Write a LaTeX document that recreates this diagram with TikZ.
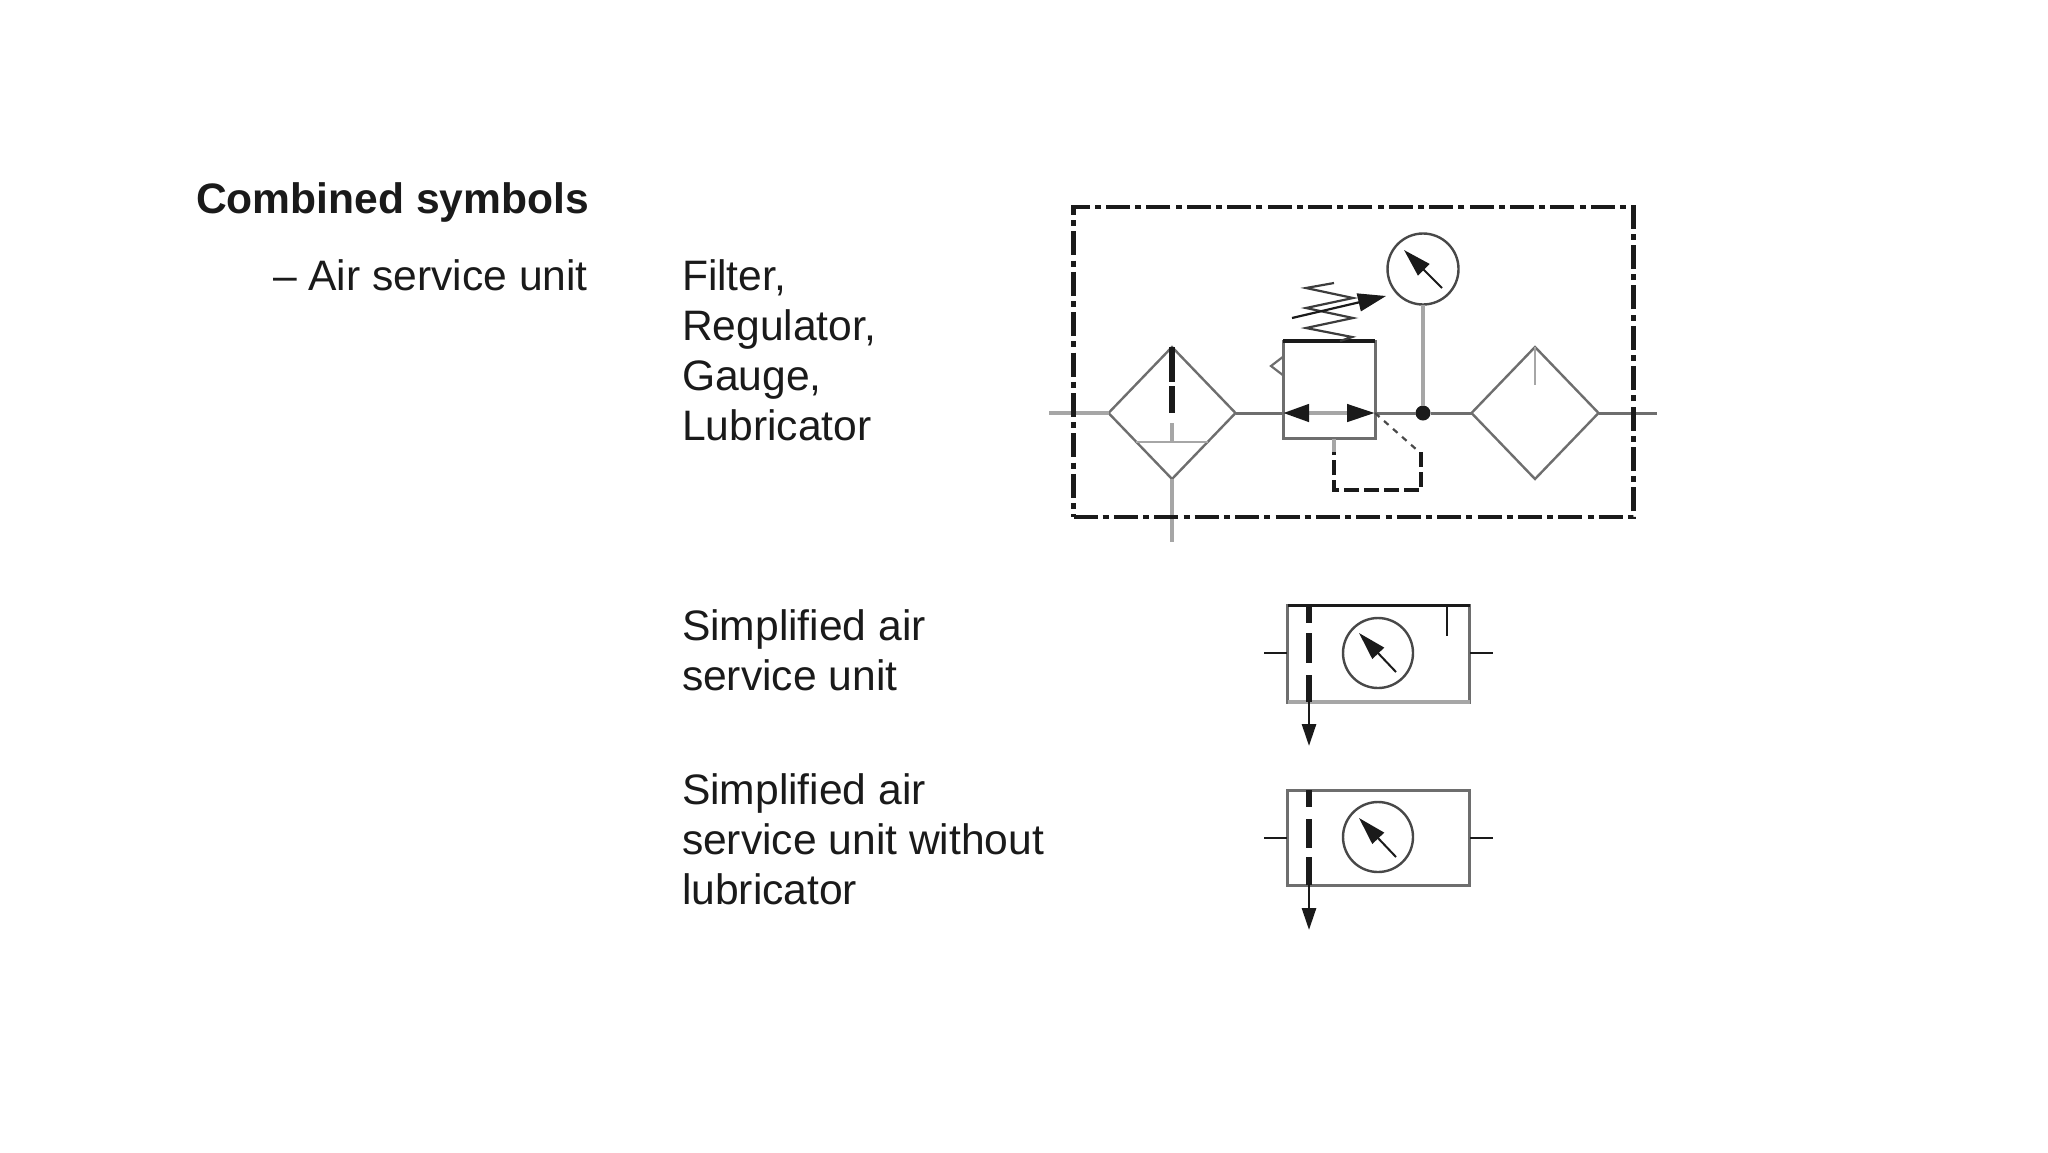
\documentclass[tikz,border=0pt]{standalone}
\usepackage{fontspec}
\setmainfont{Liberation Sans}
\usetikzlibrary{arrows.meta,shapes.geometric}
\definecolor{ink}{HTML}{1A1A1A}
\definecolor{midg}{HTML}{6E6E6E}
\definecolor{lightg}{HTML}{A6A6A6}
\tikzset{
  label text/.style={inner sep=0pt,outer sep=0pt,anchor=base west,align=left,text=ink,font=\fontsize{21.3}{25}\selectfont},
  heading text/.style={label text,font=\fontsize{21.3}{25}\selectfont\bfseries},
  filterbox/.style={shape=diamond,draw=midg,line width=1.2pt,inner sep=0pt,outer sep=0pt,minimum width=63.5pt,minimum height=66pt},
  unitbox/.style={shape=rectangle,draw=midg,line width=1.5pt,inner sep=0pt,outer sep=0pt},
  gaugebox/.style={shape=circle,draw=ink!80!white,line width=1.2pt,inner sep=0pt,outer sep=0pt,minimum size=35.5pt},
  thick grey/.style={draw=lightg,line width=2.2pt},
  thin grey/.style={draw=midg,line width=1.5pt},
  needle/.style={draw=ink,line width=1pt,-{Triangle[length=14pt,width=8pt,ink]}},
  drain/.style={draw=ink,line width=1.4pt,-{Triangle[length=11pt,width=7pt,ink]}},
  filterdash/.style={draw=ink,line width=2.6pt},
  stub/.style={draw=ink,line width=1.2pt},
  pilot/.style={draw=ink,line width=2.3pt,dash pattern=on 7.5pt off 2.5pt},
  pilot thin/.style={draw=ink!80!white,line width=1.1pt,dash pattern=on 3pt off 3pt},
  framebox/.style={shape=rectangle,draw=ink,line width=2.3pt,inner sep=0pt,outer sep=0pt,dash pattern=on 12pt off 2.6pt on 3pt off 2.6pt},
  spring/.style={draw=ink!85!white,line width=1.1pt,line join=miter},
  junction/.style={shape=circle,fill=ink,inner sep=0pt,outer sep=0pt,minimum size=7.5pt},
}
\begin{document}
\begin{tikzpicture}[x=0.5pt,y=-0.5pt]
\useasboundingbox (0,0) rectangle (2048,1152);
% texts (base anchor of a multi-line node is its last line)
\node[heading text] (title) at (196,213) {Combined symbols};
\node[label text] (sub) at (273,290) {– Air service unit};
\node[label text] (t1) at (682,440) {Filter,\\Regulator,\\Gauge,\\Lubricator};
\node[label text] (t2) at (682,690) {Simplified air\\service unit};
\node[label text] (t3) at (682,904) {Simplified air\\service unit without\\lubricator};
% full symbol nodes
\node[filterbox] (filter) at (1172,413) {};
\node[filterbox] (lub) at (1535,413) {};
\node[unitbox,minimum width=46pt,minimum height=48.5pt] (reg) at (1329,389.5) {};
\node[gaugebox] (gauge) at (1423,269) {};
\node[junction] (dot) at (1423,413) {};
\coordinate (inL) at (1049,413);
\coordinate (outR) at (1657,413);
\coordinate (regL) at (1283,413);
\coordinate (regR) at (1375,413);
\coordinate (drainEnd) at (1172,542);
% main line
\draw[thick grey] (inL) -- (filter.west);
\draw[thin grey] (filter.east) -- (regL);
\draw[thick grey,{Triangle[length=13pt,width=8.5pt,ink]}-{Triangle[length=14pt,width=8.5pt,ink]}] (regL) -- (regR);
\draw[thin grey] (regR) -- (dot);
\draw[thin grey] (dot) -- (lub.west);
\draw[thin grey] (lub.east) -- (outR);
\draw[thick grey] (gauge.south) -- (dot);
\draw[thick grey] (filter.south) -- (drainEnd);
% regulator top edge, spring and check
\draw[draw=ink,line width=1.7pt] (reg.north west) -- (reg.north east);
\coordinate (c1) at (1284,356); \coordinate (c2) at (1271,366); \coordinate (c3) at (1284,376);
\draw[spring,draw=midg] (c1) -- (c2) -- (c3);
\coordinate (s0) at (1340,341); \coordinate (s1) at (1352,337); \coordinate (s2) at (1306,328);
\coordinate (s3) at (1353,318); \coordinate (s4) at (1306,308); \coordinate (s5) at (1353,298);
\coordinate (s6) at (1306,288); \coordinate (s7) at (1334,283);
\draw[spring] (s0) -- (s1) -- (s2) -- (s3) -- (s4) -- (s5) -- (s6) -- (s7);
\coordinate (adjA) at (1292,318); \coordinate (adjB) at (1386,296);
\draw[draw=ink,line width=1.1pt,-{Triangle[length=14pt,width=9pt,ink]}] (adjA) -- (adjB);
% pilot line
\coordinate (p1) at (1417,450); \coordinate (p2) at (1421,452); \coordinate (p3) at (1421,490); \coordinate (p4) at (1334,490);
\coordinate (p5) at (1334,452); \coordinate (regB) at (1334,439);
\draw[pilot thin] (regR) -- (p1);
\draw[pilot] (p2) -- (p3) -- (p4) -- (p5);
\draw[draw=lightg,line width=1.8pt] (regB) -- (p5);
% filter inside
\coordinate (fA) at (1172,347); \coordinate (fB) at (1172,382); \coordinate (fC) at (1172,386); \coordinate (fD) at (1172,413);
\coordinate (fE) at (1172,423); \coordinate (fF) at (1172,442);
\coordinate (wL) at (1136,442); \coordinate (wR) at (1208,442);
\draw[filterdash] (fA) -- (fB);
\draw[filterdash] (fC) -- (fD);
\draw[thick grey] (fE) -- (fF);
\draw[draw=lightg,line width=1.2pt] (wL) -- (wR);
% lubricator tick
\coordinate (lubT) at (1535,385);
\draw[draw=lightg,line width=1.3pt] (lub.north) -- (lubT);
% gauge needle
\coordinate (nA) at (1442,288); \coordinate (nB) at (1404,250);
\draw[needle] (nA) -- (nB);
% frame
\node[framebox,minimum width=280pt,minimum height=155pt] (frame) at (1353.5,362) {};
% simplified unit 1
\node[unitbox,minimum width=91pt,minimum height=48.5pt] (u1) at (1378.5,653.5) {};
\node[gaugebox,minimum size=35pt] (g1) at (1378,653) {};
\coordinate (u1L) at (1264,653); \coordinate (u1La) at (1287,653);
\coordinate (u1R) at (1493,653); \coordinate (u1Ra) at (1470,653);
\draw[stub] (u1L) -- (u1La);
\draw[stub] (u1Ra) -- (u1R);
\draw[draw=lightg,line width=2.2pt] (u1.south west) -- (u1.south east);
\draw[draw=ink,line width=1.5pt] (u1.north west) -- (u1.north east);
\coordinate (u1a) at (1309,605); \coordinate (u1b) at (1309,623); \coordinate (u1c) at (1309,633); \coordinate (u1d) at (1309,663);
\coordinate (u1e) at (1309,675); \coordinate (u1f) at (1309,702); \coordinate (u1g) at (1309,746);
\draw[filterdash] (u1a) -- (u1b);
\draw[filterdash] (u1c) -- (u1d);
\draw[filterdash] (u1e) -- (u1f);
\draw[drain] (u1f) -- (u1g);
\coordinate (u1t) at (1447,606); \coordinate (u1tb) at (1447,636);
\draw[stub] (u1t) -- (u1tb);
\coordinate (n1a) at (1396,672); \coordinate (n1b) at (1359,633);
\draw[needle] (n1a) -- (n1b);
% simplified unit 2
\node[unitbox,minimum width=91pt,minimum height=47.5pt] (u2) at (1378.5,837.5) {};
\node[gaugebox,minimum size=35pt] (g2) at (1378,837) {};
\coordinate (u2L) at (1264,838); \coordinate (u2La) at (1287,838);
\coordinate (u2R) at (1493,838); \coordinate (u2Ra) at (1470,838);
\draw[stub] (u2L) -- (u2La);
\draw[stub] (u2Ra) -- (u2R);
\coordinate (u2a) at (1309,790); \coordinate (u2b) at (1309,807); \coordinate (u2c) at (1309,819); \coordinate (u2d) at (1309,848);
\coordinate (u2e) at (1309,857); \coordinate (u2f) at (1309,885); \coordinate (u2g) at (1309,930);
\draw[filterdash] (u2a) -- (u2b);
\draw[filterdash] (u2c) -- (u2d);
\draw[filterdash] (u2e) -- (u2f);
\draw[drain] (u2f) -- (u2g);
\coordinate (n2a) at (1396,857); \coordinate (n2b) at (1359,818);
\draw[needle] (n2a) -- (n2b);
\end{tikzpicture}
\end{document}
